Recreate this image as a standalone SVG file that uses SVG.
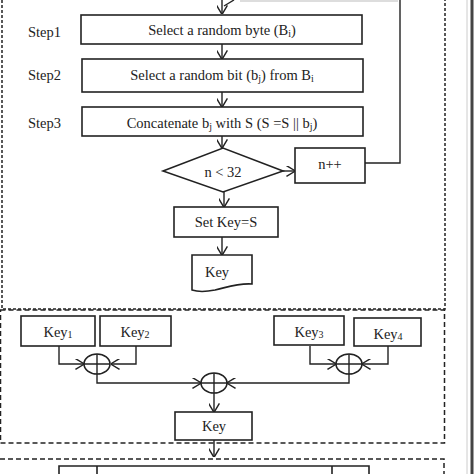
<svg xmlns="http://www.w3.org/2000/svg" width="474" height="474" viewBox="0 0 474 474">
<defs>
<style>
.box{fill:#fff;stroke:#222;stroke-width:1.6}
.ln{fill:none;stroke:#222;stroke-width:1.4}
.dash{fill:none;stroke:#222;stroke-width:1.5;stroke-dasharray:5 3}
.t{font-family:"Liberation Serif","Times New Roman",serif;font-size:14.5px;fill:#222;text-anchor:middle}
.s{font-family:"Liberation Serif","Times New Roman",serif;font-size:14.5px;fill:#222}
.sub{font-size:10px}
</style>
<marker id="ah" viewBox="0 0 10 12" refX="9.5" refY="6" markerWidth="9" markerHeight="11" markerUnits="userSpaceOnUse" orient="auto">
<path d="M0,0 L10,6 L0,12" fill="none" stroke="#222" stroke-width="1.6"/>
</marker>
</defs>
<rect width="474" height="474" fill="#fff"/>
<rect x="240" y="0" width="158" height="2" fill="#ddd"/>
<line x1="472" y1="0" x2="472" y2="474" stroke="#444" stroke-width="3"/>
<line x1="467" y1="0" x2="467" y2="474" stroke="#ccc" stroke-width="1"/>
<path class="dash" d="M2,0 V309 H445 V0" style="stroke-dasharray:3 2"/>
<rect class="dash" x="0.5" y="310" width="444" height="133"/>
<path class="dash" d="M0,459 H444 V474"/>

<g id="connectors">
<line class="ln" x1="222" y1="0" x2="222" y2="14" marker-end="url(#ah)"/>
<line class="ln" x1="224" y1="6" x2="234" y2="0"/>
<line class="ln" x1="222" y1="44" x2="222" y2="59" marker-end="url(#ah)"/>
<line class="ln" x1="222" y1="92" x2="222" y2="107" marker-end="url(#ah)"/>
<line class="ln" x1="222" y1="136" x2="222" y2="148" marker-end="url(#ah)"/>
<line class="ln" x1="283" y1="171" x2="295" y2="171" marker-end="url(#ah)"/>
<path class="ln" d="M365,163 H400 V0"/>
<line class="ln" x1="224" y1="192" x2="224" y2="207" marker-end="url(#ah)"/>
<line class="ln" x1="222" y1="237" x2="222" y2="255" marker-end="url(#ah)"/>
<path class="ln" d="M59,346 V364 H84" marker-end="url(#ah)"/>
<path class="ln" d="M136,346 V364 H111" marker-end="url(#ah)"/>
<path class="ln" d="M310,346 V364 H336" marker-end="url(#ah)"/>
<path class="ln" d="M388,346 V364 H362" marker-end="url(#ah)"/>
<path class="ln" d="M97,374 V383 H201" marker-end="url(#ah)"/>
<path class="ln" d="M349,374 V383 H227" marker-end="url(#ah)"/>
<line class="ln" x1="214" y1="393" x2="214" y2="412" marker-end="url(#ah)"/>
<line class="ln" x1="214" y1="440" x2="214" y2="457" marker-end="url(#ah)"/>
</g>

<g id="labels">
<text class="s" x="28" y="37">Step1</text>
<text class="s" x="28" y="80">Step2</text>
<text class="s" x="28" y="128">Step3</text>
</g>

<g id="step1"><rect class="box" x="81" y="15" width="281" height="29"/>
<text class="t" x="222" y="35">Select a random byte (B<tspan class="sub" dy="2">i</tspan><tspan dy="-2">)</tspan></text></g>
<g id="step2"><rect class="box" x="82" y="59" width="281" height="33"/>
<text class="t" x="222" y="80">Select a random bit (b<tspan class="sub" dy="2">j</tspan><tspan dy="-2">) from B</tspan><tspan class="sub" dy="2">i</tspan></text></g>
<g id="step3"><rect class="box" x="82" y="107" width="281" height="29"/>
<text class="t" x="222" y="128">Concatenate b<tspan class="sub" dy="2">j</tspan><tspan dy="-2"> with S (S =S || b</tspan><tspan class="sub" dy="2">j</tspan><tspan dy="-2">)</tspan></text></g>
<g id="cond"><polygon class="box" points="163,171 223,148 283,171 223,192"/>
<text class="t" x="223" y="177">n &lt; 32</text></g>
<g id="incr"><rect class="box" x="295" y="148" width="70" height="35"/>
<text class="t" x="330" y="169">n++</text></g>
<g id="setkey"><rect class="box" x="174" y="207" width="104" height="30"/>
<text class="t" x="226" y="227">Set Key=S</text></g>
<g id="keydoc"><path class="box" d="M192,255 H252 V284 C238,283 228,287 215,290 C205,292 198,292 192,290 Z"/>
<text class="t" x="217" y="277">Key</text></g>

<g id="key1"><rect class="box" x="21" y="316" width="74" height="30"/>
<text class="t" x="58" y="337">Key<tspan class="sub" dy="1">1</tspan></text></g>
<g id="key2"><rect class="box" x="100" y="316" width="71" height="30"/>
<text class="t" x="135" y="337">Key<tspan class="sub" dy="1">2</tspan></text></g>
<g id="key3"><rect class="box" x="274" y="316" width="70" height="29"/>
<text class="t" x="309" y="337">Key<tspan class="sub" dy="1">3</tspan></text></g>
<g id="key4"><rect class="box" x="354" y="318" width="67" height="28"/>
<text class="t" x="388" y="339">Key<tspan class="sub" dy="1">4</tspan></text></g>

<g id="xor1"><ellipse class="box" cx="97" cy="364" rx="13" ry="10"/><path class="ln" d="M84,364 H110 M97,354 V374"/></g>
<g id="xor2"><ellipse class="box" cx="349" cy="364" rx="13" ry="10"/><path class="ln" d="M336,364 H362 M349,354 V374"/></g>
<g id="xor3"><ellipse class="box" cx="214" cy="383" rx="13" ry="10"/><path class="ln" d="M201,383 H227 M214,373 V393"/></g>

<g id="keyout"><rect class="box" x="175" y="412" width="77" height="28"/>
<text class="t" x="214" y="431">Key</text></g>

<g id="bottom"><path class="ln" d="M59,474 V466 H369 V474 M97,466 V474 M332,466 V474" style="stroke-width:1.6"/></g>
</svg>
